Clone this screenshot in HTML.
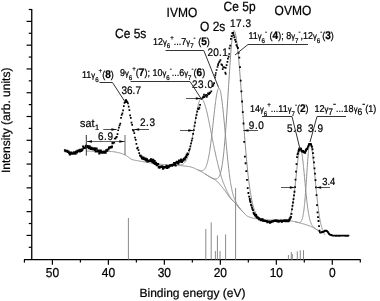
<!DOCTYPE html>
<html><head><meta charset="utf-8"><style>
html,body{margin:0;padding:0;background:#fff;}
svg{display:block;}
text{font-family:"Liberation Sans",sans-serif;fill:#000;stroke:#000;stroke-width:0.22px;}
svg{will-change:transform;text-rendering:geometricPrecision;}
</style></head><body>
<svg width="380" height="301" viewBox="0 0 380 301">
<line x1="31.75" y1="9" x2="31.75" y2="259.6" stroke="#000" stroke-width="1.3"/>
<line x1="24" y1="259.6" x2="360.6" y2="259.6" stroke="#000" stroke-width="1.15"/>
<line x1="28.75" y1="9.50" x2="31.75" y2="9.50" stroke="#000" stroke-width="1.2"/>
<line x1="26.55" y1="21.39" x2="31.75" y2="21.39" stroke="#000" stroke-width="1.2"/>
<line x1="28.75" y1="33.28" x2="31.75" y2="33.28" stroke="#000" stroke-width="1.2"/>
<line x1="26.55" y1="45.17" x2="31.75" y2="45.17" stroke="#000" stroke-width="1.2"/>
<line x1="28.75" y1="57.06" x2="31.75" y2="57.06" stroke="#000" stroke-width="1.2"/>
<line x1="26.55" y1="68.95" x2="31.75" y2="68.95" stroke="#000" stroke-width="1.2"/>
<line x1="28.75" y1="80.84" x2="31.75" y2="80.84" stroke="#000" stroke-width="1.2"/>
<line x1="26.55" y1="92.73" x2="31.75" y2="92.73" stroke="#000" stroke-width="1.2"/>
<line x1="28.75" y1="104.62" x2="31.75" y2="104.62" stroke="#000" stroke-width="1.2"/>
<line x1="26.55" y1="116.51" x2="31.75" y2="116.51" stroke="#000" stroke-width="1.2"/>
<line x1="28.75" y1="128.40" x2="31.75" y2="128.40" stroke="#000" stroke-width="1.2"/>
<line x1="26.55" y1="140.29" x2="31.75" y2="140.29" stroke="#000" stroke-width="1.2"/>
<line x1="28.75" y1="152.18" x2="31.75" y2="152.18" stroke="#000" stroke-width="1.2"/>
<line x1="26.55" y1="164.07" x2="31.75" y2="164.07" stroke="#000" stroke-width="1.2"/>
<line x1="28.75" y1="175.96" x2="31.75" y2="175.96" stroke="#000" stroke-width="1.2"/>
<line x1="26.55" y1="187.85" x2="31.75" y2="187.85" stroke="#000" stroke-width="1.2"/>
<line x1="28.75" y1="199.74" x2="31.75" y2="199.74" stroke="#000" stroke-width="1.2"/>
<line x1="26.55" y1="211.63" x2="31.75" y2="211.63" stroke="#000" stroke-width="1.2"/>
<line x1="28.75" y1="223.52" x2="31.75" y2="223.52" stroke="#000" stroke-width="1.2"/>
<line x1="26.55" y1="235.41" x2="31.75" y2="235.41" stroke="#000" stroke-width="1.2"/>
<line x1="28.75" y1="247.30" x2="31.75" y2="247.30" stroke="#000" stroke-width="1.2"/>
<line x1="360.29" y1="259.6" x2="360.29" y2="262.60" stroke="#000" stroke-width="1.2"/>
<line x1="332.30" y1="259.6" x2="332.30" y2="264.80" stroke="#000" stroke-width="1.2"/>
<line x1="304.31" y1="259.6" x2="304.31" y2="262.60" stroke="#000" stroke-width="1.2"/>
<line x1="276.32" y1="259.6" x2="276.32" y2="264.80" stroke="#000" stroke-width="1.2"/>
<line x1="248.33" y1="259.6" x2="248.33" y2="262.60" stroke="#000" stroke-width="1.2"/>
<line x1="220.34" y1="259.6" x2="220.34" y2="264.80" stroke="#000" stroke-width="1.2"/>
<line x1="192.35" y1="259.6" x2="192.35" y2="262.60" stroke="#000" stroke-width="1.2"/>
<line x1="164.36" y1="259.6" x2="164.36" y2="264.80" stroke="#000" stroke-width="1.2"/>
<line x1="136.37" y1="259.6" x2="136.37" y2="262.60" stroke="#000" stroke-width="1.2"/>
<line x1="108.38" y1="259.6" x2="108.38" y2="264.80" stroke="#000" stroke-width="1.2"/>
<line x1="80.39" y1="259.6" x2="80.39" y2="262.60" stroke="#000" stroke-width="1.2"/>
<line x1="52.40" y1="259.6" x2="52.40" y2="264.80" stroke="#000" stroke-width="1.2"/>
<line x1="24.41" y1="259.6" x2="24.41" y2="262.60" stroke="#000" stroke-width="1.2"/>
<text transform="translate(332.30,277) scale(1,1.08)" font-size="12" text-anchor="middle">0</text>
<text transform="translate(276.32,277) scale(1,1.08)" font-size="12" text-anchor="middle">10</text>
<text transform="translate(220.34,277) scale(1,1.08)" font-size="12" text-anchor="middle">20</text>
<text transform="translate(164.36,277) scale(1,1.08)" font-size="12" text-anchor="middle">30</text>
<text transform="translate(108.38,277) scale(1,1.08)" font-size="12" text-anchor="middle">40</text>
<text transform="translate(52.40,277) scale(1,1.08)" font-size="12" text-anchor="middle">50</text>
<text x="192.5" y="297" font-size="12" text-anchor="middle">Binding energy (eV)</text>
<text transform="translate(10.4,120.3) rotate(-90)" font-size="12" text-anchor="middle">Intensity (arb. units)</text>
<line x1="128.4" y1="218" x2="128.4" y2="259.6" stroke="#8a8a8a" stroke-width="1"/>
<line x1="205.8" y1="229" x2="205.8" y2="259.6" stroke="#8a8a8a" stroke-width="1"/>
<line x1="211.2" y1="222.4" x2="211.2" y2="259.6" stroke="#8a8a8a" stroke-width="1"/>
<line x1="215.4" y1="251" x2="215.4" y2="259.6" stroke="#8a8a8a" stroke-width="1"/>
<line x1="217.4" y1="235.4" x2="217.4" y2="259.6" stroke="#8a8a8a" stroke-width="1"/>
<line x1="220" y1="251" x2="220" y2="259.6" stroke="#8a8a8a" stroke-width="1"/>
<line x1="225.6" y1="234.4" x2="225.6" y2="259.6" stroke="#8a8a8a" stroke-width="1"/>
<line x1="235.6" y1="188" x2="235.6" y2="259.6" stroke="#8a8a8a" stroke-width="1"/>
<line x1="288.4" y1="255" x2="288.4" y2="259.6" stroke="#8a8a8a" stroke-width="1"/>
<line x1="291.3" y1="252" x2="291.3" y2="259.6" stroke="#8a8a8a" stroke-width="1"/>
<line x1="292.3" y1="254" x2="292.3" y2="259.6" stroke="#8a8a8a" stroke-width="1"/>
<line x1="297.3" y1="251.3" x2="297.3" y2="259.6" stroke="#8a8a8a" stroke-width="1"/>
<line x1="300.3" y1="250.2" x2="300.3" y2="259.6" stroke="#8a8a8a" stroke-width="1"/>
<line x1="303.5" y1="250.2" x2="303.5" y2="259.6" stroke="#8a8a8a" stroke-width="1"/>
<path d="M86.00,151.00 L86.47,151.03 L86.94,151.05 L87.41,151.08 L87.88,151.10 L88.34,151.13 L88.81,151.15 L89.28,151.18 L89.75,151.20 L90.22,151.23 L90.69,151.25 L91.16,151.27 L91.63,151.29 L92.10,151.31 L92.57,151.33 L93.03,151.35 L93.50,151.37 L93.97,151.39 L94.44,151.40 L94.91,151.42 L95.38,151.43 L95.85,151.44 L96.32,151.45 L96.79,151.47 L97.25,151.47 L97.72,151.48 L98.19,151.49 L98.66,151.49 L99.13,151.50 L99.60,151.50 L100.07,151.50 L100.54,151.50 L101.01,151.50 L101.47,151.50 L101.94,151.50 L102.41,151.50 L102.88,151.50 L103.35,151.50 L103.82,151.50 L104.29,151.50 L104.76,151.50 L105.23,151.50 L105.70,151.50 L106.16,151.50 L106.63,151.50 L107.10,151.50 L107.57,151.50 L108.04,151.50 L108.51,151.50 L108.98,151.50 L109.45,151.50 L109.92,151.50 L110.38,151.50 L110.85,151.52 L111.32,151.54 L111.79,151.57 L112.26,151.60 L112.73,151.65 L113.20,151.70 L113.67,151.76 L114.14,151.83 L114.61,151.90 L115.07,151.98 L115.54,152.06 L116.01,152.14 L116.48,152.23 L116.95,152.33 L117.42,152.43 L117.89,152.53 L118.36,152.63 L118.83,152.73 L119.29,152.84 L119.76,152.95 L120.23,153.06 L120.70,153.18 L121.17,153.33 L121.64,153.49 L122.11,153.67 L122.58,153.86 L123.05,154.06 L123.52,154.27 L123.98,154.49 L124.45,154.72 L124.92,154.95 L125.39,155.19 L125.86,155.43 L126.33,155.68 L126.80,155.97 L127.27,156.30 L127.74,156.65 L128.20,157.01 L128.67,157.39 L129.14,157.76 L129.61,158.12 L130.08,158.46 L130.55,158.78 L131.02,159.06 L131.49,159.30 L131.96,159.49 L132.42,159.63 L132.89,159.77 L133.36,159.89 L133.83,160.01 L134.30,160.12 L134.77,160.22 L135.24,160.32 L135.71,160.41 L136.18,160.50 L136.65,160.58 L137.11,160.66 L137.58,160.74 L138.05,160.81 L138.52,160.89 L138.99,160.96 L139.46,161.04 L139.93,161.11 L140.40,161.19 L140.87,161.28 L141.33,161.36 L141.80,161.44 L142.27,161.53 L142.74,161.61 L143.21,161.69 L143.68,161.77 L144.15,161.86 L144.62,161.93 L145.09,162.01 L145.56,162.09 L146.02,162.17 L146.49,162.25 L146.96,162.32 L147.43,162.40 L147.90,162.47 L148.37,162.55 L148.84,162.62 L149.31,162.69 L149.78,162.77 L150.24,162.84 L150.71,162.91 L151.18,162.98 L151.65,163.05 L152.12,163.12 L152.59,163.19 L153.06,163.26 L153.53,163.34 L154.00,163.40 L154.46,163.47 L154.93,163.54 L155.40,163.61 L155.87,163.68 L156.34,163.74 L156.81,163.80 L157.28,163.87 L157.75,163.93 L158.22,163.99 L158.69,164.05 L159.15,164.10 L159.62,164.16 L160.09,164.21 L160.56,164.26 L161.03,164.31 L161.50,164.37 L161.97,164.42 L162.44,164.47 L162.91,164.52 L163.37,164.57 L163.84,164.62 L164.31,164.67 L164.78,164.72 L165.25,164.77 L165.72,164.81 L166.19,164.86 L166.66,164.90 L167.13,164.95 L167.60,164.99 L168.06,165.03 L168.53,165.07 L169.00,165.10 L169.47,165.14 L169.94,165.17 L170.41,165.21 L170.88,165.24 L171.35,165.26 L171.82,165.29 L172.28,165.31 L172.75,165.34 L173.22,165.36 L173.69,165.37 L174.16,165.39 L174.63,165.40 L175.10,165.42 L175.57,165.43 L176.04,165.45 L176.51,165.46 L176.97,165.47 L177.44,165.49 L177.91,165.51 L178.38,165.52 L178.85,165.54 L179.32,165.56 L179.79,165.59 L180.26,165.61 L180.73,165.64 L181.19,165.68 L181.66,165.71 L182.13,165.75 L182.60,165.79 L183.07,165.83 L183.54,165.88 L184.01,165.92 L184.48,165.98 L184.95,166.03 L185.41,166.09 L185.88,166.15 L186.35,166.21 L186.82,166.28 L187.29,166.34 L187.76,166.42 L188.23,166.49 L188.70,166.57 L189.17,166.65 L189.64,166.73 L190.10,166.82 L190.57,166.92 L191.04,167.04 L191.51,167.17 L191.98,167.31 L192.45,167.47 L192.92,167.64 L193.39,167.82 L193.86,168.01 L194.32,168.21 L194.79,168.42 L195.26,168.64 L195.73,168.86 L196.20,169.09 L196.67,169.32 L197.14,169.55 L197.61,169.79 L198.08,170.03 L198.55,170.27 L199.01,170.51 L199.48,170.74 L199.95,170.98 L200.42,171.21 L200.89,171.46 L201.36,171.71 L201.83,171.97 L202.30,172.24 L202.77,172.51 L203.23,172.79 L203.70,173.07 L204.17,173.36 L204.64,173.65 L205.11,173.95 L205.58,174.24 L206.05,174.54 L206.52,174.84 L206.99,175.14 L207.45,175.43 L207.92,175.73 L208.39,176.02 L208.86,176.31 L209.33,176.60 L209.80,176.88 L210.27,177.16 L210.74,177.42 L211.21,177.68 L211.68,177.93 L212.14,178.17 L212.61,178.42 L213.08,178.67 L213.55,178.93 L214.02,179.19 L214.49,179.47 L214.96,179.77 L215.43,180.08 L215.90,180.42 L216.36,180.79 L216.83,181.18 L217.30,181.61 L217.77,182.06 L218.24,182.54 L218.71,183.05 L219.18,183.57 L219.65,184.11 L220.12,184.66 L220.59,185.23 L221.05,185.81 L221.52,186.39 L221.99,186.98 L222.46,187.57 L222.93,188.16 L223.40,188.75 L223.87,189.34 L224.34,189.92 L224.81,190.53 L225.27,191.17 L225.74,191.82 L226.21,192.48 L226.68,193.15 L227.15,193.83 L227.62,194.51 L228.09,195.18 L228.56,195.84 L229.03,196.50 L229.49,197.13 L229.96,197.74 L230.43,198.33 L230.90,198.89 L231.37,199.41 L231.84,199.90 L232.31,200.37 L232.78,200.83 L233.25,201.28 L233.72,201.72 L234.18,202.18 L234.65,202.64 L235.12,203.13 L235.59,203.63 L236.06,204.15 L236.53,204.68 L237.00,205.22 L237.47,205.76 L237.94,206.31 L238.40,206.86 L238.87,207.41 L239.34,207.96 L239.81,208.51 L240.28,209.05 L240.75,209.59 L241.22,210.12 L241.69,210.63 L242.16,211.14 L242.63,211.62 L243.09,212.09 L243.56,212.57 L244.03,213.07 L244.50,213.57 L244.97,214.07 L245.44,214.55 L245.91,215.01 L246.38,215.43 L246.85,215.81 L247.31,216.14 L247.78,216.40 L248.25,216.60 L248.72,216.79 L249.19,216.97 L249.66,217.14 L250.13,217.30 L250.60,217.45 L251.07,217.59 L251.54,217.73 L252.00,217.86 L252.47,217.98 L252.94,218.10 L253.41,218.21 L253.88,218.31 L254.35,218.41 L254.82,218.50 L255.29,218.59 L255.76,218.67 L256.22,218.75 L256.69,218.82 L257.16,218.89 L257.63,218.95 L258.10,219.01 L258.57,219.07 L259.04,219.13 L259.51,219.18 L259.98,219.23 L260.44,219.28 L260.91,219.33 L261.38,219.37 L261.85,219.42 L262.32,219.46 L262.79,219.50 L263.26,219.54 L263.73,219.58 L264.20,219.61 L264.67,219.65 L265.13,219.68 L265.60,219.72 L266.07,219.75 L266.54,219.78 L267.01,219.81 L267.48,219.84 L267.95,219.87 L268.42,219.90 L268.89,219.93 L269.35,219.96 L269.82,219.99 L270.29,220.02 L270.76,220.05 L271.23,220.07 L271.70,220.10 L272.17,220.12 L272.64,220.14 L273.11,220.17 L273.58,220.19 L274.04,220.21 L274.51,220.23 L274.98,220.24 L275.45,220.26 L275.92,220.28 L276.39,220.30 L276.86,220.31 L277.33,220.33 L277.80,220.35 L278.26,220.36 L278.73,220.38 L279.20,220.39 L279.67,220.41 L280.14,220.43 L280.61,220.44 L281.08,220.46 L281.55,220.47 L282.02,220.49 L282.48,220.51 L282.95,220.53 L283.42,220.55 L283.89,220.57 L284.36,220.59 L284.83,220.61 L285.30,220.63 L285.77,220.65 L286.24,220.68 L286.71,220.70 L287.17,220.73 L287.64,220.76 L288.11,220.79 L288.58,220.82 L289.05,220.85 L289.52,220.88 L289.99,220.92 L290.46,220.95 L290.93,220.99 L291.39,221.04 L291.86,221.09 L292.33,221.16 L292.80,221.23 L293.27,221.32 L293.74,221.41 L294.21,221.51 L294.68,221.62 L295.15,221.73 L295.62,221.84 L296.08,221.96 L296.55,222.08 L297.02,222.21 L297.49,222.34 L297.96,222.46 L298.43,222.59 L298.90,222.71 L299.37,222.84 L299.84,222.96 L300.30,223.08 L300.77,223.20 L301.24,223.32 L301.71,223.44 L302.18,223.56 L302.65,223.69 L303.12,223.81 L303.59,223.94 L304.06,224.08 L304.53,224.21 L304.99,224.35 L305.46,224.50 L305.93,224.65 L306.40,224.80 L306.87,224.96 L307.34,225.12 L307.81,225.28 L308.28,225.46 L308.75,225.63 L309.21,225.81 L309.68,226.00 L310.15,226.19 L310.62,226.39 L311.09,226.60 L311.56,226.81 L312.03,227.02 L312.50,227.25 L312.97,227.47 L313.43,227.71 L313.90,227.95 L314.37,228.20 L314.84,228.46 L315.31,228.74 L315.78,229.02 L316.25,229.32 L316.72,229.62 L317.19,229.94 L317.66,230.26 L318.12,230.59 L318.59,230.94 L319.06,231.28 L319.53,231.64 L320.00,232.00" fill="none" stroke="#8a8a8a" stroke-width="1"/>
<path d="M180.00,165.11 L180.20,165.07 L180.40,165.03 L180.60,164.99 L180.80,164.94 L181.00,164.89 L181.20,164.83 L181.40,164.77 L181.61,164.70 L181.81,164.62 L182.01,164.54 L182.21,164.45 L182.41,164.36 L182.61,164.25 L182.81,164.14 L183.01,164.02 L183.21,163.89 L183.41,163.75 L183.61,163.59 L183.81,163.43 L184.01,163.25 L184.21,163.07 L184.41,162.86 L184.62,162.65 L184.82,162.42 L185.02,162.17 L185.22,161.91 L185.42,161.64 L185.62,161.34 L185.82,161.03 L186.02,160.70 L186.22,160.35 L186.42,159.97 L186.62,159.58 L186.82,159.17 L187.02,158.73 L187.22,158.27 L187.42,157.79 L187.63,157.28 L187.83,156.75 L188.03,156.20 L188.23,155.62 L188.43,155.01 L188.63,154.37 L188.83,153.71 L189.03,153.02 L189.23,152.31 L189.43,151.56 L189.63,150.79 L189.83,149.99 L190.03,149.16 L190.23,148.31 L190.43,147.43 L190.64,146.53 L190.84,145.60 L191.04,144.64 L191.24,143.66 L191.44,142.66 L191.64,141.64 L191.84,140.59 L192.04,139.53 L192.24,138.44 L192.44,137.33 L192.64,136.21 L192.84,135.06 L193.04,133.91 L193.24,132.73 L193.44,131.55 L193.65,130.35 L193.85,129.15 L194.05,127.94 L194.25,126.72 L194.45,125.50 L194.65,124.28 L194.85,123.05 L195.05,121.83 L195.25,120.62 L195.45,119.41 L195.65,118.22 L195.85,117.03 L196.05,115.87 L196.25,114.71 L196.45,113.58 L196.66,112.47 L196.86,111.39 L197.06,110.33 L197.26,109.31 L197.46,108.31 L197.66,107.35 L197.86,106.43 L198.06,105.55 L198.26,104.71 L198.46,103.91 L198.66,103.16 L198.86,102.46 L199.06,101.81 L199.26,101.21 L199.46,100.66 L199.67,100.17 L199.87,99.74 L200.07,99.36 L200.27,99.04 L200.47,98.79 L200.67,98.60 L200.87,98.47 L201.07,98.41 L201.27,98.42 L201.47,98.48 L201.67,98.61 L201.87,98.76 L202.07,98.95 L202.27,99.17 L202.47,99.42 L202.68,99.70 L202.88,100.01 L203.08,100.36 L203.28,100.73 L203.48,101.14 L203.68,101.57 L203.88,102.04 L204.08,102.53 L204.28,103.05 L204.48,103.60 L204.68,104.18 L204.88,104.79 L205.08,105.42 L205.28,106.07 L205.48,106.75 L205.69,107.45 L205.89,108.18 L206.09,108.93 L206.29,109.70 L206.49,110.50 L206.69,111.31 L206.89,112.14 L207.09,112.99 L207.29,113.86 L207.49,114.74 L207.69,115.64 L207.89,116.55 L208.09,117.48 L208.29,118.42 L208.49,119.38 L208.70,120.34 L208.90,121.32 L209.10,122.30 L209.30,123.29 L209.50,124.29 L209.70,125.30 L209.90,126.31 L210.10,127.32 L210.30,128.34 L210.50,129.36 L210.70,130.38 L210.90,131.40 L211.10,132.43 L211.30,133.45 L211.51,134.47 L211.71,135.48 L211.91,136.50 L212.11,137.51 L212.31,138.53 L212.51,139.53 L212.71,140.54 L212.91,141.53 L213.11,142.53 L213.31,143.52 L213.51,144.50 L213.71,145.48 L213.91,146.45 L214.11,147.42 L214.31,148.38 L214.52,149.33 L214.72,150.27 L214.92,151.21 L215.12,152.14 L215.32,153.07 L215.52,153.98 L215.72,154.89 L215.92,155.79 L216.12,156.69 L216.32,157.58 L216.52,158.46 L216.72,159.33 L216.92,160.20 L217.12,161.05 L217.32,161.90 L217.53,162.75 L217.73,163.58 L217.93,164.40 L218.13,165.22 L218.33,166.02 L218.53,166.82 L218.73,167.60 L218.93,168.38 L219.13,169.14 L219.33,169.90 L219.53,170.64 L219.73,171.37 L219.93,172.10 L220.13,172.81 L220.33,173.51 L220.54,174.20 L220.74,174.88 L220.94,175.54 L221.14,176.20 L221.34,176.84 L221.54,177.48 L221.74,178.10 L221.94,178.71 L222.14,179.31 L222.34,179.90 L222.54,180.48 L222.74,181.04 L222.94,181.60 L223.14,182.14 L223.34,182.68 L223.55,183.20 L223.75,183.71 L223.95,184.21 L224.15,184.70 L224.35,185.19 L224.55,185.67 L224.75,186.15 L224.95,186.62 L225.15,187.09 L225.35,187.55 L225.55,188.01 L225.75,188.47 L225.95,188.92 L226.15,189.37 L226.35,189.81 L226.56,190.24 L226.76,190.67 L226.96,191.09 L227.16,191.51 L227.36,191.93 L227.56,192.33 L227.76,192.73 L227.96,193.13 L228.16,193.52 L228.36,193.90 L228.56,194.27 L228.76,194.64 L228.96,195.00 L229.16,195.36 L229.36,195.70 L229.57,196.04 L229.77,196.38 L229.97,196.70 L230.17,197.01 L230.37,197.32 L230.57,197.62 L230.77,197.91 L230.97,198.19 L231.17,198.47 L231.37,198.73 L231.57,198.98 L231.77,199.23 L231.97,199.48 L232.17,199.71 L232.37,199.94 L232.58,200.17 L232.78,200.39 L232.98,200.61 L233.18,200.83 L233.38,201.04 L233.58,201.26 L233.78,201.47 L233.98,201.69 L234.18,201.90 L234.38,202.12 L234.58,202.33 L234.78,202.55 L234.98,202.78 L235.18,203.00 L235.38,203.23 L235.59,203.46 L235.79,203.69 L235.99,203.92 L236.19,204.16 L236.39,204.39 L236.59,204.63 L236.79,204.87 L236.99,205.11 L237.19,205.35 L237.39,205.59 L237.59,205.83 L237.79,206.07 L237.99,206.31 L238.19,206.55 L238.39,206.79 L238.60,207.03 L238.80,207.27 L239.00,207.51 L239.20,207.75 L239.40,207.99 L239.60,208.23 L239.80,208.46 L240.00,208.70" fill="none" stroke="#8a8a8a" stroke-width="1"/>
<path d="M198.00,169.83 L198.16,169.90 L198.31,169.96 L198.47,170.02 L198.63,170.08 L198.79,170.14 L198.94,170.20 L199.10,170.25 L199.26,170.30 L199.41,170.35 L199.57,170.40 L199.73,170.44 L199.89,170.48 L200.04,170.52 L200.20,170.55 L200.36,170.58 L200.52,170.61 L200.67,170.64 L200.83,170.66 L200.99,170.68 L201.14,170.69 L201.30,170.70 L201.46,170.71 L201.62,170.71 L201.77,170.70 L201.93,170.69 L202.09,170.67 L202.24,170.65 L202.40,170.62 L202.56,170.58 L202.72,170.53 L202.87,170.48 L203.03,170.41 L203.19,170.34 L203.34,170.25 L203.50,170.16 L203.66,170.05 L203.82,169.93 L203.97,169.80 L204.13,169.66 L204.29,169.50 L204.44,169.33 L204.60,169.14 L204.76,168.93 L204.92,168.71 L205.07,168.48 L205.23,168.22 L205.39,167.95 L205.55,167.66 L205.70,167.35 L205.86,167.01 L206.02,166.66 L206.17,166.28 L206.33,165.89 L206.49,165.46 L206.65,165.02 L206.80,164.55 L206.96,164.05 L207.12,163.53 L207.27,162.99 L207.43,162.41 L207.59,161.81 L207.75,161.18 L207.90,160.53 L208.06,159.84 L208.22,159.13 L208.37,158.38 L208.53,157.61 L208.69,156.80 L208.85,155.97 L209.00,155.11 L209.16,154.21 L209.32,153.29 L209.47,152.33 L209.63,151.35 L209.79,150.34 L209.95,149.29 L210.10,148.22 L210.26,147.12 L210.42,145.99 L210.58,144.83 L210.73,143.64 L210.89,142.43 L211.05,141.19 L211.20,139.93 L211.36,138.64 L211.52,137.33 L211.68,136.00 L211.83,134.65 L211.99,133.29 L212.15,131.91 L212.30,130.51 L212.46,129.10 L212.62,127.68 L212.78,126.25 L212.93,124.82 L213.09,123.38 L213.25,121.94 L213.40,120.49 L213.56,119.05 L213.72,117.61 L213.88,116.18 L214.03,114.76 L214.19,113.35 L214.35,111.95 L214.51,110.57 L214.66,109.20 L214.82,107.86 L214.98,106.54 L215.13,105.25 L215.29,103.99 L215.45,102.75 L215.61,101.56 L215.76,100.39 L215.92,99.27 L216.08,98.19 L216.23,97.15 L216.39,96.16 L216.55,95.22 L216.71,94.33 L216.86,93.49 L217.02,92.71 L217.18,91.98 L217.33,91.31 L217.49,90.70 L217.65,90.15 L217.81,89.66 L217.96,89.23 L218.12,88.87 L218.28,88.58 L218.43,88.35 L218.59,88.19 L218.75,88.09 L218.91,88.07 L219.06,88.11 L219.22,88.22 L219.38,88.40 L219.54,88.65 L219.69,88.96 L219.85,89.35 L220.01,89.80 L220.16,90.31 L220.32,90.90 L220.48,91.55 L220.64,92.26 L220.79,93.04 L220.95,93.87 L221.11,94.77 L221.26,95.73 L221.42,96.74 L221.58,97.81 L221.74,98.93 L221.89,100.10 L222.05,101.33 L222.21,102.60 L222.36,103.91 L222.52,105.27 L222.68,106.67 L222.84,108.11 L222.99,109.58 L223.15,111.09 L223.31,112.62 L223.46,114.19 L223.62,115.78 L223.78,117.39 L223.94,119.03 L224.09,120.69 L224.25,122.36 L224.41,124.05 L224.57,125.76 L224.72,127.48 L224.88,129.21 L225.04,130.95 L225.19,132.69 L225.35,134.43 L225.51,136.18 L225.67,137.92 L225.82,139.66 L225.98,141.40 L226.14,143.12 L226.29,144.84 L226.45,146.54 L226.61,148.23 L226.77,149.91 L226.92,151.57 L227.08,153.21 L227.24,154.82 L227.39,156.42 L227.55,158.00 L227.71,159.55 L227.87,161.07 L228.02,162.57 L228.18,164.05 L228.34,165.49 L228.49,166.91 L228.65,168.29 L228.81,169.65 L228.97,170.97 L229.12,172.27 L229.28,173.53 L229.44,174.76 L229.60,175.96 L229.75,177.13 L229.91,178.26 L230.07,179.37 L230.22,180.44 L230.38,181.47 L230.54,182.48 L230.70,183.45 L230.85,184.39 L231.01,185.30 L231.17,186.17 L231.32,187.02 L231.48,187.84 L231.64,188.62 L231.80,189.38 L231.95,190.11 L232.11,190.81 L232.27,191.49 L232.42,192.15 L232.58,192.77 L232.74,193.38 L232.90,193.96 L233.05,194.52 L233.21,195.07 L233.37,195.59 L233.53,196.09 L233.68,196.58 L233.84,197.05 L234.00,197.50 L234.15,197.94 L234.31,198.36 L234.47,198.77 L234.63,199.17 L234.78,199.56 L234.94,199.94 L235.10,200.31 L235.25,200.66 L235.41,201.01 L235.57,201.35 L235.73,201.68 L235.88,202.00 L236.04,202.32 L236.20,202.62 L236.35,202.92 L236.51,203.21 L236.67,203.50 L236.83,203.78 L236.98,204.05 L237.14,204.32 L237.30,204.59 L237.45,204.84 L237.61,205.10 L237.77,205.35 L237.93,205.59 L238.08,205.83 L238.24,206.07 L238.40,206.30 L238.56,206.53 L238.71,206.76 L238.87,206.98 L239.03,207.20 L239.18,207.42 L239.34,207.64 L239.50,207.85 L239.66,208.06 L239.81,208.26 L239.97,208.47 L240.13,208.67 L240.28,208.87 L240.44,209.07 L240.60,209.26 L240.76,209.46 L240.91,209.65 L241.07,209.83 L241.23,210.02 L241.38,210.20 L241.54,210.39 L241.70,210.57 L241.86,210.74 L242.01,210.92 L242.17,211.09 L242.33,211.26 L242.48,211.43 L242.64,211.60 L242.80,211.76 L242.96,211.92 L243.11,212.08 L243.27,212.24 L243.43,212.41 L243.59,212.57 L243.74,212.74 L243.90,212.91 L244.06,213.08 L244.21,213.25 L244.37,213.42 L244.53,213.59 L244.69,213.76 L244.84,213.92 L245.00,214.09" fill="none" stroke="#8a8a8a" stroke-width="1"/>
<path d="M205.00,173.88 L205.20,174.00 L205.40,174.13 L205.60,174.26 L205.80,174.38 L206.00,174.51 L206.20,174.64 L206.40,174.77 L206.61,174.89 L206.81,175.02 L207.01,175.15 L207.21,175.27 L207.41,175.40 L207.61,175.52 L207.81,175.65 L208.01,175.77 L208.21,175.90 L208.41,176.02 L208.61,176.14 L208.81,176.26 L209.01,176.38 L209.21,176.50 L209.41,176.62 L209.62,176.74 L209.82,176.85 L210.02,176.97 L210.22,177.08 L210.42,177.18 L210.62,177.29 L210.82,177.39 L211.02,177.49 L211.22,177.59 L211.42,177.68 L211.62,177.77 L211.82,177.86 L212.02,177.95 L212.22,178.03 L212.42,178.11 L212.63,178.19 L212.83,178.26 L213.03,178.34 L213.23,178.41 L213.43,178.48 L213.63,178.54 L213.83,178.60 L214.03,178.66 L214.23,178.71 L214.43,178.76 L214.63,178.80 L214.83,178.84 L215.03,178.87 L215.23,178.89 L215.43,178.91 L215.64,178.92 L215.84,178.92 L216.04,178.91 L216.24,178.90 L216.44,178.87 L216.64,178.83 L216.84,178.77 L217.04,178.70 L217.24,178.62 L217.44,178.51 L217.64,178.39 L217.84,178.24 L218.04,178.06 L218.24,177.86 L218.44,177.63 L218.65,177.37 L218.85,177.08 L219.05,176.75 L219.25,176.38 L219.45,175.97 L219.65,175.52 L219.85,175.02 L220.05,174.47 L220.25,173.88 L220.45,173.22 L220.65,172.51 L220.85,171.74 L221.05,170.91 L221.25,170.02 L221.45,169.06 L221.66,168.02 L221.86,166.92 L222.06,165.74 L222.26,164.48 L222.46,163.15 L222.66,161.73 L222.86,160.24 L223.06,158.65 L223.26,156.99 L223.46,155.23 L223.66,153.39 L223.86,151.46 L224.06,149.44 L224.26,147.34 L224.46,145.16 L224.67,142.89 L224.87,140.55 L225.07,138.12 L225.27,135.62 L225.47,133.04 L225.67,130.39 L225.87,127.66 L226.07,124.87 L226.27,122.01 L226.47,119.09 L226.67,116.12 L226.87,113.09 L227.07,110.01 L227.27,106.90 L227.47,103.75 L227.68,100.57 L227.88,97.36 L228.08,94.14 L228.28,90.91 L228.48,87.68 L228.68,84.46 L228.88,81.26 L229.08,78.07 L229.28,74.92 L229.48,71.81 L229.68,68.74 L229.88,65.74 L230.08,62.80 L230.28,59.93 L230.48,57.15 L230.69,54.47 L230.89,51.88 L231.09,49.40 L231.29,47.04 L231.49,44.81 L231.69,42.71 L231.89,40.75 L232.09,38.94 L232.29,37.29 L232.49,35.81 L232.69,34.49 L232.89,33.35 L233.09,32.39 L233.29,31.61 L233.49,31.02 L233.70,30.63 L233.90,30.43 L234.10,30.43 L234.30,30.61 L234.50,30.91 L234.70,31.31 L234.90,31.82 L235.10,32.44 L235.30,33.16 L235.50,33.98 L235.70,34.90 L235.90,35.91 L236.10,37.03 L236.30,38.24 L236.51,39.55 L236.71,40.95 L236.91,42.44 L237.11,44.01 L237.31,45.67 L237.51,47.42 L237.71,49.24 L237.91,51.14 L238.11,53.11 L238.31,55.16 L238.51,57.27 L238.71,59.45 L238.91,61.68 L239.11,63.98 L239.31,66.33 L239.52,68.73 L239.72,71.18 L239.92,73.67 L240.12,76.21 L240.32,78.78 L240.52,81.38 L240.72,84.02 L240.92,86.68 L241.12,89.36 L241.32,92.06 L241.52,94.78 L241.72,97.51 L241.92,100.25 L242.12,102.99 L242.32,105.74 L242.53,108.48 L242.73,111.22 L242.93,113.95 L243.13,116.68 L243.33,119.39 L243.53,122.10 L243.73,124.80 L243.93,127.48 L244.13,130.14 L244.33,132.78 L244.53,135.40 L244.73,137.99 L244.93,140.55 L245.13,143.07 L245.33,145.56 L245.54,148.01 L245.74,150.42 L245.94,152.79 L246.14,155.12 L246.34,157.40 L246.54,159.63 L246.74,161.81 L246.94,163.94 L247.14,166.02 L247.34,168.04 L247.54,170.01 L247.74,171.92 L247.94,173.77 L248.14,175.57 L248.34,177.32 L248.55,179.02 L248.75,180.67 L248.95,182.28 L249.15,183.84 L249.35,185.36 L249.55,186.82 L249.75,188.25 L249.95,189.62 L250.15,190.96 L250.35,192.24 L250.55,193.49 L250.75,194.69 L250.95,195.84 L251.15,196.96 L251.35,198.03 L251.56,199.07 L251.76,200.06 L251.96,201.02 L252.16,201.94 L252.36,202.82 L252.56,203.67 L252.76,204.48 L252.96,205.26 L253.16,206.00 L253.36,206.71 L253.56,207.39 L253.76,208.05 L253.96,208.67 L254.16,209.26 L254.36,209.83 L254.57,210.37 L254.77,210.88 L254.97,211.37 L255.17,211.83 L255.37,212.28 L255.57,212.70 L255.77,213.10 L255.97,213.48 L256.17,213.84 L256.37,214.18 L256.57,214.50 L256.77,214.81 L256.97,215.10 L257.17,215.37 L257.37,215.63 L257.58,215.88 L257.78,216.11 L257.98,216.33 L258.18,216.54 L258.38,216.73 L258.58,216.92 L258.78,217.09 L258.98,217.26 L259.18,217.41 L259.38,217.56 L259.58,217.70 L259.78,217.83 L259.98,217.95 L260.18,218.07 L260.38,218.17 L260.59,218.28 L260.79,218.37 L260.99,218.46 L261.19,218.55 L261.39,218.63 L261.59,218.71 L261.79,218.78 L261.99,218.85 L262.19,218.91 L262.39,218.97 L262.59,219.03 L262.79,219.08 L262.99,219.13 L263.19,219.18 L263.39,219.23 L263.60,219.27 L263.80,219.31 L264.00,219.35 L264.20,219.39 L264.40,219.42 L264.60,219.45 L264.80,219.48 L265.00,219.51" fill="none" stroke="#8a8a8a" stroke-width="1"/>
<path d="M285.00,220.42 L285.12,220.41 L285.23,220.39 L285.35,220.38 L285.47,220.36 L285.59,220.34 L285.70,220.32 L285.82,220.29 L285.94,220.27 L286.05,220.24 L286.17,220.21 L286.29,220.18 L286.40,220.14 L286.52,220.10 L286.64,220.06 L286.76,220.01 L286.87,219.96 L286.99,219.90 L287.11,219.84 L287.22,219.78 L287.34,219.71 L287.46,219.64 L287.58,219.56 L287.69,219.47 L287.81,219.38 L287.93,219.28 L288.04,219.18 L288.16,219.07 L288.28,218.95 L288.39,218.82 L288.51,218.69 L288.63,218.55 L288.75,218.39 L288.86,218.23 L288.98,218.06 L289.10,217.88 L289.21,217.68 L289.33,217.48 L289.45,217.26 L289.57,217.03 L289.68,216.79 L289.80,216.54 L289.92,216.27 L290.03,215.99 L290.15,215.69 L290.27,215.38 L290.38,215.05 L290.50,214.71 L290.62,214.35 L290.74,213.97 L290.85,213.58 L290.97,213.17 L291.09,212.74 L291.20,212.29 L291.32,211.82 L291.44,211.34 L291.56,210.83 L291.67,210.31 L291.79,209.76 L291.91,209.20 L292.02,208.61 L292.14,208.01 L292.26,207.38 L292.37,206.73 L292.49,206.06 L292.61,205.37 L292.73,204.65 L292.84,203.92 L292.96,203.16 L293.08,202.38 L293.19,201.58 L293.31,200.76 L293.43,199.92 L293.55,199.05 L293.66,198.17 L293.78,197.27 L293.90,196.34 L294.01,195.40 L294.13,194.44 L294.25,193.46 L294.36,192.46 L294.48,191.45 L294.60,190.42 L294.72,189.38 L294.83,188.32 L294.95,187.25 L295.07,186.17 L295.18,185.08 L295.30,183.98 L295.42,182.87 L295.54,181.75 L295.65,180.63 L295.77,179.50 L295.89,178.37 L296.00,177.24 L296.12,176.11 L296.24,174.98 L296.35,173.85 L296.47,172.73 L296.59,171.62 L296.71,170.51 L296.82,169.42 L296.94,168.34 L297.06,167.27 L297.17,166.21 L297.29,165.18 L297.41,164.16 L297.53,163.16 L297.64,162.19 L297.76,161.24 L297.88,160.32 L297.99,159.42 L298.11,158.55 L298.23,157.72 L298.34,156.92 L298.46,156.15 L298.58,155.41 L298.70,154.72 L298.81,154.06 L298.93,153.44 L299.05,152.87 L299.16,152.33 L299.28,151.84 L299.40,151.39 L299.52,150.99 L299.63,150.64 L299.75,150.33 L299.87,150.07 L299.98,149.85 L300.10,149.69 L300.22,149.57 L300.33,149.51 L300.45,149.49 L300.57,149.53 L300.69,149.62 L300.80,149.76 L300.92,149.97 L301.04,150.22 L301.15,150.53 L301.27,150.90 L301.39,151.32 L301.51,151.79 L301.62,152.31 L301.74,152.89 L301.86,153.51 L301.97,154.18 L302.09,154.90 L302.21,155.66 L302.32,156.46 L302.44,157.31 L302.56,158.20 L302.68,159.12 L302.79,160.08 L302.91,161.08 L303.03,162.11 L303.14,163.17 L303.26,164.25 L303.38,165.37 L303.49,166.50 L303.61,167.66 L303.73,168.84 L303.85,170.04 L303.96,171.25 L304.08,172.48 L304.20,173.72 L304.31,174.97 L304.43,176.22 L304.55,177.48 L304.67,178.75 L304.78,180.01 L304.90,181.28 L305.02,182.54 L305.13,183.80 L305.25,185.05 L305.37,186.30 L305.48,187.54 L305.60,188.77 L305.72,189.98 L305.84,191.18 L305.95,192.37 L306.07,193.54 L306.19,194.70 L306.30,195.84 L306.42,196.95 L306.54,198.05 L306.66,199.13 L306.77,200.19 L306.89,201.23 L307.01,202.24 L307.12,203.23 L307.24,204.20 L307.36,205.14 L307.47,206.06 L307.59,206.95 L307.71,207.82 L307.83,208.67 L307.94,209.49 L308.06,210.28 L308.18,211.05 L308.29,211.80 L308.41,212.52 L308.53,213.22 L308.65,213.90 L308.76,214.55 L308.88,215.18 L309.00,215.78 L309.11,216.36 L309.23,216.93 L309.35,217.46 L309.46,217.98 L309.58,218.48 L309.70,218.96 L309.82,219.42 L309.93,219.86 L310.05,220.28 L310.17,220.68 L310.28,221.07 L310.40,221.44 L310.52,221.79 L310.64,222.13 L310.75,222.46 L310.87,222.77 L310.99,223.06 L311.10,223.34 L311.22,223.61 L311.34,223.87 L311.45,224.12 L311.57,224.35 L311.69,224.58 L311.81,224.79 L311.92,225.00 L312.04,225.19 L312.16,225.38 L312.27,225.56 L312.39,225.73 L312.51,225.90 L312.63,226.06 L312.74,226.21 L312.86,226.36 L312.98,226.50 L313.09,226.63 L313.21,226.76 L313.33,226.89 L313.44,227.01 L313.56,227.12 L313.68,227.24 L313.80,227.35 L313.91,227.45 L314.03,227.56 L314.15,227.66 L314.26,227.76 L314.38,227.85 L314.50,227.95 L314.62,228.04 L314.73,228.13 L314.85,228.22 L314.97,228.31 L315.08,228.40 L315.20,228.49 L315.32,228.57 L315.43,228.66 L315.55,228.74 L315.67,228.83 L315.79,228.91 L315.90,229.00 L316.02,229.08 L316.14,229.16 L316.25,229.24 L316.37,229.33 L316.49,229.41 L316.61,229.49 L316.72,229.58 L316.84,229.66 L316.96,229.74 L317.07,229.82 L317.19,229.91 L317.31,229.99 L317.42,230.08 L317.54,230.16 L317.66,230.24 L317.78,230.33 L317.89,230.41 L318.01,230.50 L318.13,230.58 L318.24,230.67 L318.36,230.76 L318.48,230.84 L318.60,230.93 L318.71,231.02 L318.83,231.10 L318.95,231.19 L319.06,231.28 L319.18,231.37 L319.30,231.46 L319.41,231.55 L319.53,231.64 L319.65,231.73 L319.77,231.82 L319.88,231.91 L320.00,232.00" fill="none" stroke="#8a8a8a" stroke-width="1"/>
<path d="M295.00,221.69 L295.10,221.71 L295.20,221.74 L295.30,221.76 L295.40,221.79 L295.50,221.81 L295.60,221.84 L295.70,221.86 L295.80,221.88 L295.90,221.91 L296.00,221.93 L296.10,221.96 L296.20,221.98 L296.30,222.01 L296.40,222.03 L296.51,222.06 L296.61,222.08 L296.71,222.11 L296.81,222.13 L296.91,222.16 L297.01,222.18 L297.11,222.20 L297.21,222.23 L297.31,222.25 L297.41,222.27 L297.51,222.29 L297.61,222.32 L297.71,222.34 L297.81,222.36 L297.91,222.37 L298.01,222.39 L298.11,222.41 L298.21,222.42 L298.31,222.44 L298.41,222.45 L298.51,222.46 L298.61,222.47 L298.71,222.48 L298.81,222.49 L298.91,222.49 L299.01,222.49 L299.11,222.49 L299.21,222.49 L299.31,222.48 L299.41,222.47 L299.52,222.45 L299.62,222.43 L299.72,222.41 L299.82,222.38 L299.92,222.35 L300.02,222.31 L300.12,222.26 L300.22,222.21 L300.32,222.16 L300.42,222.09 L300.52,222.02 L300.62,221.94 L300.72,221.85 L300.82,221.75 L300.92,221.64 L301.02,221.53 L301.12,221.40 L301.22,221.25 L301.32,221.10 L301.42,220.93 L301.52,220.75 L301.62,220.55 L301.72,220.34 L301.82,220.11 L301.92,219.86 L302.02,219.60 L302.12,219.31 L302.22,219.01 L302.32,218.68 L302.42,218.34 L302.53,217.96 L302.63,217.57 L302.73,217.15 L302.83,216.71 L302.93,216.23 L303.03,215.73 L303.13,215.21 L303.23,214.65 L303.33,214.06 L303.43,213.44 L303.53,212.79 L303.63,212.11 L303.73,211.40 L303.83,210.65 L303.93,209.86 L304.03,209.05 L304.13,208.19 L304.23,207.31 L304.33,206.38 L304.43,205.42 L304.53,204.43 L304.63,203.40 L304.73,202.33 L304.83,201.23 L304.93,200.09 L305.03,198.93 L305.13,197.72 L305.23,196.49 L305.33,195.22 L305.43,193.92 L305.54,192.59 L305.64,191.24 L305.74,189.85 L305.84,188.45 L305.94,187.02 L306.04,185.57 L306.14,184.10 L306.24,182.61 L306.34,181.11 L306.44,179.60 L306.54,178.07 L306.64,176.54 L306.74,175.01 L306.84,173.48 L306.94,171.95 L307.04,170.42 L307.14,168.90 L307.24,167.40 L307.34,165.91 L307.44,164.44 L307.54,162.99 L307.64,161.56 L307.74,160.17 L307.84,158.81 L307.94,157.48 L308.04,156.19 L308.14,154.95 L308.24,153.75 L308.34,152.60 L308.44,151.50 L308.55,150.46 L308.65,149.47 L308.75,148.55 L308.85,147.69 L308.95,146.89 L309.05,146.17 L309.15,145.51 L309.25,144.93 L309.35,144.42 L309.45,143.98 L309.55,143.63 L309.65,143.35 L309.75,143.15 L309.85,143.03 L309.95,142.99 L310.05,143.02 L310.15,143.10 L310.25,143.21 L310.35,143.34 L310.45,143.51 L310.55,143.72 L310.65,143.95 L310.75,144.22 L310.85,144.52 L310.95,144.85 L311.05,145.21 L311.15,145.60 L311.25,146.02 L311.35,146.47 L311.45,146.95 L311.56,147.46 L311.66,147.99 L311.76,148.56 L311.86,149.15 L311.96,149.77 L312.06,150.41 L312.16,151.08 L312.26,151.77 L312.36,152.49 L312.46,153.23 L312.56,153.99 L312.66,154.77 L312.76,155.58 L312.86,156.40 L312.96,157.24 L313.06,158.10 L313.16,158.98 L313.26,159.88 L313.36,160.79 L313.46,161.72 L313.56,162.66 L313.66,163.61 L313.76,164.58 L313.86,165.56 L313.96,166.54 L314.06,167.54 L314.16,168.55 L314.26,169.57 L314.36,170.59 L314.46,171.62 L314.57,172.65 L314.67,173.69 L314.77,174.74 L314.87,175.78 L314.97,176.83 L315.07,177.88 L315.17,178.93 L315.27,179.99 L315.37,181.04 L315.47,182.09 L315.57,183.13 L315.67,184.18 L315.77,185.22 L315.87,186.25 L315.97,187.28 L316.07,188.31 L316.17,189.33 L316.27,190.34 L316.37,191.35 L316.47,192.35 L316.57,193.33 L316.67,194.31 L316.77,195.29 L316.87,196.25 L316.97,197.20 L317.07,198.14 L317.17,199.07 L317.27,199.99 L317.37,200.89 L317.47,201.79 L317.58,202.67 L317.68,203.54 L317.78,204.40 L317.88,205.24 L317.98,206.07 L318.08,206.89 L318.18,207.69 L318.28,208.48 L318.38,209.26 L318.48,210.02 L318.58,210.77 L318.68,211.50 L318.78,212.23 L318.88,212.93 L318.98,213.62 L319.08,214.30 L319.18,214.97 L319.28,215.62 L319.38,216.25 L319.48,216.88 L319.58,217.49 L319.68,218.08 L319.78,218.66 L319.88,219.23 L319.98,219.79 L320.08,220.33 L320.18,220.86 L320.28,221.37 L320.38,221.88 L320.48,222.37 L320.59,222.85 L320.69,223.31 L320.79,223.77 L320.89,224.21 L320.99,224.64 L321.09,225.06 L321.19,225.47 L321.29,225.87 L321.39,226.26 L321.49,226.63 L321.59,227.00 L321.69,227.36 L321.79,227.70 L321.89,228.04 L321.99,228.37 L322.09,228.69 L322.19,229.00 L322.29,229.30 L322.39,229.60 L322.49,229.88 L322.59,230.16 L322.69,230.43 L322.79,230.69 L322.89,230.95 L322.99,231.20 L323.09,231.44 L323.19,231.67 L323.29,231.90 L323.39,232.12 L323.49,232.34 L323.60,232.55 L323.70,232.76 L323.80,232.96 L323.90,233.15 L324.00,233.34 L324.10,233.53 L324.20,233.71 L324.30,233.88 L324.40,234.05 L324.50,234.22 L324.60,234.39 L324.70,234.55 L324.80,234.70 L324.90,234.85 L325.00,235.00" fill="none" stroke="#8a8a8a" stroke-width="1"/>
<path d="M63.90,149.20h2.20v2.20h-2.20zM64.60,150.06h2.20v2.20h-2.20zM65.30,150.01h2.20v2.20h-2.20zM66.00,149.87h2.20v2.20h-2.20zM66.70,150.72h2.20v2.20h-2.20zM67.40,150.51h2.20v2.20h-2.20zM68.10,151.81h2.20v2.20h-2.20zM68.80,153.23h2.20v2.20h-2.20zM69.50,151.46h2.20v2.20h-2.20zM70.20,151.39h2.20v2.20h-2.20zM70.90,152.54h2.20v2.20h-2.20zM71.60,152.44h2.20v2.20h-2.20zM72.30,152.20h2.20v2.20h-2.20zM73.00,151.16h2.20v2.20h-2.20zM73.70,152.02h2.20v2.20h-2.20zM74.40,152.66h2.20v2.20h-2.20zM75.10,150.51h2.20v2.20h-2.20zM75.80,151.25h2.20v2.20h-2.20zM76.50,149.65h2.20v2.20h-2.20zM77.20,150.05h2.20v2.20h-2.20zM77.90,149.14h2.20v2.20h-2.20zM78.60,150.29h2.20v2.20h-2.20zM79.30,148.72h2.20v2.20h-2.20zM80.00,149.70h2.20v2.20h-2.20zM80.70,149.05h2.20v2.20h-2.20zM81.40,148.21h2.20v2.20h-2.20zM82.10,145.39h2.20v2.20h-2.20zM82.80,146.84h2.20v2.20h-2.20zM83.50,146.84h2.20v2.20h-2.20zM84.20,146.64h2.20v2.20h-2.20zM84.90,144.81h2.20v2.20h-2.20zM85.60,145.73h2.20v2.20h-2.20zM86.30,145.12h2.20v2.20h-2.20zM87.00,145.22h2.20v2.20h-2.20zM87.70,147.06h2.20v2.20h-2.20zM88.40,145.34h2.20v2.20h-2.20zM89.10,146.48h2.20v2.20h-2.20zM89.80,147.86h2.20v2.20h-2.20zM90.50,146.83h2.20v2.20h-2.20zM91.20,147.60h2.20v2.20h-2.20zM91.90,148.07h2.20v2.20h-2.20zM92.60,148.24h2.20v2.20h-2.20zM93.30,147.16h2.20v2.20h-2.20zM94.00,148.68h2.20v2.20h-2.20zM94.70,150.19h2.20v2.20h-2.20zM95.40,147.55h2.20v2.20h-2.20zM96.10,150.26h2.20v2.20h-2.20zM96.80,149.83h2.20v2.20h-2.20zM97.50,149.38h2.20v2.20h-2.20zM98.20,152.29h2.20v2.20h-2.20zM98.90,151.26h2.20v2.20h-2.20zM99.60,149.47h2.20v2.20h-2.20zM100.30,150.90h2.20v2.20h-2.20zM101.00,151.48h2.20v2.20h-2.20zM101.70,150.68h2.20v2.20h-2.20zM102.40,151.44h2.20v2.20h-2.20zM103.10,150.53h2.20v2.20h-2.20zM103.80,151.06h2.20v2.20h-2.20zM104.50,151.60h2.20v2.20h-2.20zM105.20,149.16h2.20v2.20h-2.20zM105.90,149.58h2.20v2.20h-2.20zM106.60,148.38h2.20v2.20h-2.20zM107.30,148.41h2.20v2.20h-2.20zM108.00,146.51h2.20v2.20h-2.20zM108.70,146.45h2.20v2.20h-2.20zM109.40,146.09h2.20v2.20h-2.20zM110.10,146.34h2.20v2.20h-2.20zM110.80,145.58h2.20v2.20h-2.20zM111.50,141.95h2.20v2.20h-2.20zM112.20,141.24h2.20v2.20h-2.20zM112.90,141.42h2.20v2.20h-2.20zM113.85,137.67h1.70v1.70h-1.70zM114.55,137.71h1.70v1.70h-1.70zM115.25,136.45h1.70v1.70h-1.70zM115.95,136.00h1.70v1.70h-1.70zM116.65,133.30h1.70v1.70h-1.70zM117.35,129.42h1.70v1.70h-1.70zM118.05,126.78h1.70v1.70h-1.70zM118.75,124.49h1.70v1.70h-1.70zM119.45,122.79h1.70v1.70h-1.70zM120.15,117.03h1.70v1.70h-1.70zM120.85,114.11h1.70v1.70h-1.70zM121.55,112.60h1.70v1.70h-1.70zM122.25,109.56h1.70v1.70h-1.70zM122.95,105.29h1.70v1.70h-1.70zM123.65,102.01h1.70v1.70h-1.70zM124.35,101.27h1.70v1.70h-1.70zM124.80,99.34h2.20v2.20h-2.20zM125.50,100.58h2.20v2.20h-2.20zM126.45,101.23h1.70v1.70h-1.70zM127.15,102.45h1.70v1.70h-1.70zM127.85,105.70h1.70v1.70h-1.70zM128.55,109.21h1.70v1.70h-1.70zM129.25,114.43h1.70v1.70h-1.70zM129.95,117.04h1.70v1.70h-1.70zM130.65,121.76h1.70v1.70h-1.70zM131.35,123.94h1.70v1.70h-1.70zM132.05,129.05h1.70v1.70h-1.70zM132.75,129.94h1.70v1.70h-1.70zM133.45,132.25h1.70v1.70h-1.70zM134.15,136.78h1.70v1.70h-1.70zM134.85,139.10h1.70v1.70h-1.70zM135.55,142.94h1.70v1.70h-1.70zM136.25,147.53h1.70v1.70h-1.70zM136.95,146.80h1.70v1.70h-1.70zM137.65,149.22h1.70v1.70h-1.70zM138.35,152.28h1.70v1.70h-1.70zM139.05,154.46h1.70v1.70h-1.70zM139.50,154.64h2.20v2.20h-2.20zM140.20,155.49h2.20v2.20h-2.20zM140.90,157.11h2.20v2.20h-2.20zM141.60,157.50h2.20v2.20h-2.20zM142.30,156.44h2.20v2.20h-2.20zM143.00,157.83h2.20v2.20h-2.20zM143.70,158.34h2.20v2.20h-2.20zM144.40,157.59h2.20v2.20h-2.20zM145.10,159.19h2.20v2.20h-2.20zM145.80,158.31h2.20v2.20h-2.20zM146.50,160.33h2.20v2.20h-2.20zM147.20,159.69h2.20v2.20h-2.20zM147.90,159.71h2.20v2.20h-2.20zM148.60,159.16h2.20v2.20h-2.20zM149.30,159.81h2.20v2.20h-2.20zM150.00,158.15h2.20v2.20h-2.20zM150.70,159.26h2.20v2.20h-2.20zM151.40,161.03h2.20v2.20h-2.20zM152.10,158.85h2.20v2.20h-2.20zM152.80,162.16h2.20v2.20h-2.20zM153.50,159.94h2.20v2.20h-2.20zM154.20,162.85h2.20v2.20h-2.20zM154.90,161.70h2.20v2.20h-2.20zM155.60,164.00h2.20v2.20h-2.20zM156.30,164.08h2.20v2.20h-2.20zM157.00,162.91h2.20v2.20h-2.20zM157.70,166.05h2.20v2.20h-2.20zM158.40,166.58h2.20v2.20h-2.20zM159.10,165.39h2.20v2.20h-2.20zM159.80,165.47h2.20v2.20h-2.20zM160.50,165.84h2.20v2.20h-2.20zM161.20,165.25h2.20v2.20h-2.20zM161.90,167.51h2.20v2.20h-2.20zM162.60,166.01h2.20v2.20h-2.20zM163.30,166.60h2.20v2.20h-2.20zM164.00,165.90h2.20v2.20h-2.20zM164.70,165.94h2.20v2.20h-2.20zM165.40,164.82h2.20v2.20h-2.20zM166.10,166.84h2.20v2.20h-2.20zM166.80,165.16h2.20v2.20h-2.20zM167.50,166.14h2.20v2.20h-2.20zM168.20,165.07h2.20v2.20h-2.20zM168.90,164.26h2.20v2.20h-2.20zM169.60,164.51h2.20v2.20h-2.20zM170.30,164.11h2.20v2.20h-2.20zM171.00,164.44h2.20v2.20h-2.20zM171.70,163.75h2.20v2.20h-2.20zM172.40,163.47h2.20v2.20h-2.20zM173.10,161.99h2.20v2.20h-2.20zM173.80,162.15h2.20v2.20h-2.20zM174.50,164.20h2.20v2.20h-2.20zM175.20,161.47h2.20v2.20h-2.20zM175.90,160.72h2.20v2.20h-2.20zM176.60,161.80h2.20v2.20h-2.20zM177.30,162.60h2.20v2.20h-2.20zM178.00,159.51h2.20v2.20h-2.20zM178.70,160.55h2.20v2.20h-2.20zM179.40,159.91h2.20v2.20h-2.20zM180.10,158.53h2.20v2.20h-2.20zM180.80,160.74h2.20v2.20h-2.20zM181.50,159.62h2.20v2.20h-2.20zM182.20,159.23h2.20v2.20h-2.20zM182.90,157.79h2.20v2.20h-2.20zM183.60,158.25h2.20v2.20h-2.20zM184.30,156.42h2.20v2.20h-2.20zM185.00,155.87h2.20v2.20h-2.20zM185.70,153.73h2.20v2.20h-2.20zM186.65,152.45h1.70v1.70h-1.70zM187.35,153.39h1.70v1.70h-1.70zM188.05,149.64h1.70v1.70h-1.70zM188.75,148.21h1.70v1.70h-1.70zM189.45,145.47h1.70v1.70h-1.70zM190.15,142.53h1.70v1.70h-1.70zM190.85,139.68h1.70v1.70h-1.70zM191.55,137.66h1.70v1.70h-1.70zM192.25,133.07h1.70v1.70h-1.70zM192.95,129.30h1.70v1.70h-1.70zM193.65,125.13h1.70v1.70h-1.70zM194.35,121.71h1.70v1.70h-1.70zM195.05,117.29h1.70v1.70h-1.70zM195.75,114.08h1.70v1.70h-1.70zM196.45,110.70h1.70v1.70h-1.70zM197.15,107.77h1.70v1.70h-1.70zM197.85,108.27h1.70v1.70h-1.70zM198.55,106.69h1.70v1.70h-1.70zM199.20,103.98h1.80v1.80h-1.80zM228.60,47.41h1.80v1.80h-1.80zM229.30,44.72h1.80v1.80h-1.80zM230.00,38.07h1.80v1.80h-1.80zM230.70,35.22h1.80v1.80h-1.80zM231.40,32.17h1.80v1.80h-1.80zM231.90,31.88h2.20v2.20h-2.20zM232.80,34.26h1.80v1.80h-1.80zM233.50,36.37h1.80v1.80h-1.80zM234.20,38.88h1.80v1.80h-1.80zM234.90,41.04h1.80v1.80h-1.80zM235.60,44.28h1.80v1.80h-1.80zM236.30,45.76h1.80v1.80h-1.80zM237.00,47.08h1.80v1.80h-1.80zM237.70,51.97h1.80v1.80h-1.80zM238.40,56.65h1.80v1.80h-1.80zM239.10,66.32h1.80v1.80h-1.80zM239.80,79.72h1.80v1.80h-1.80zM240.50,90.52h1.80v1.80h-1.80zM241.20,100.59h1.80v1.80h-1.80zM241.90,111.14h1.80v1.80h-1.80zM242.60,122.59h1.80v1.80h-1.80zM243.30,140.89h1.80v1.80h-1.80zM244.00,155.80h1.80v1.80h-1.80zM244.70,162.35h1.80v1.80h-1.80zM245.40,170.26h1.80v1.80h-1.80zM246.10,178.91h1.80v1.80h-1.80zM246.80,187.20h1.80v1.80h-1.80zM247.50,192.10h1.80v1.80h-1.80zM248.20,195.75h1.80v1.80h-1.80zM248.90,198.09h1.80v1.80h-1.80zM249.10,199.85h1.80v1.80h-1.80zM249.60,201.31h1.80v1.80h-1.80zM250.10,203.84h1.80v1.80h-1.80zM250.60,204.64h1.80v1.80h-1.80zM251.10,206.76h1.80v1.80h-1.80zM251.60,208.38h1.80v1.80h-1.80zM252.10,209.28h1.80v1.80h-1.80zM252.60,211.77h1.80v1.80h-1.80zM252.95,212.59h2.10v2.10h-2.10zM253.45,212.70h2.10v2.10h-2.10zM253.95,213.98h2.10v2.10h-2.10zM254.45,214.56h2.10v2.10h-2.10zM254.95,214.03h2.10v2.10h-2.10zM255.45,215.78h2.10v2.10h-2.10zM255.95,216.19h2.10v2.10h-2.10zM256.45,216.71h2.10v2.10h-2.10zM256.95,216.63h2.10v2.10h-2.10zM257.45,217.26h2.10v2.10h-2.10zM257.95,217.56h2.10v2.10h-2.10zM258.45,218.35h2.10v2.10h-2.10zM258.95,218.22h2.10v2.10h-2.10zM259.45,218.28h2.10v2.10h-2.10zM259.95,219.07h2.10v2.10h-2.10zM260.45,218.41h2.10v2.10h-2.10zM260.95,218.63h2.10v2.10h-2.10zM261.45,218.21h2.10v2.10h-2.10zM261.95,219.71h2.10v2.10h-2.10zM262.45,219.61h2.10v2.10h-2.10zM262.95,219.73h2.10v2.10h-2.10zM263.45,219.79h2.10v2.10h-2.10zM263.95,219.72h2.10v2.10h-2.10zM264.45,219.92h2.10v2.10h-2.10zM264.95,219.89h2.10v2.10h-2.10zM265.45,220.06h2.10v2.10h-2.10zM265.95,220.31h2.10v2.10h-2.10zM266.45,221.03h2.10v2.10h-2.10zM266.95,220.77h2.10v2.10h-2.10zM267.45,220.64h2.10v2.10h-2.10zM267.95,220.53h2.10v2.10h-2.10zM268.45,220.58h2.10v2.10h-2.10zM268.95,221.54h2.10v2.10h-2.10zM269.45,221.14h2.10v2.10h-2.10zM269.95,220.98h2.10v2.10h-2.10zM270.45,220.74h2.10v2.10h-2.10zM270.95,220.24h2.10v2.10h-2.10zM271.45,220.40h2.10v2.10h-2.10zM271.95,220.51h2.10v2.10h-2.10zM272.45,219.77h2.10v2.10h-2.10zM272.95,219.69h2.10v2.10h-2.10zM273.45,219.66h2.10v2.10h-2.10zM273.95,219.80h2.10v2.10h-2.10zM274.45,219.14h2.10v2.10h-2.10zM274.95,219.70h2.10v2.10h-2.10zM275.45,219.48h2.10v2.10h-2.10zM275.95,220.21h2.10v2.10h-2.10zM276.45,219.57h2.10v2.10h-2.10zM276.95,220.14h2.10v2.10h-2.10zM277.45,220.54h2.10v2.10h-2.10zM277.95,219.82h2.10v2.10h-2.10zM278.45,219.71h2.10v2.10h-2.10zM278.95,220.03h2.10v2.10h-2.10zM279.45,219.95h2.10v2.10h-2.10zM279.95,219.54h2.10v2.10h-2.10zM280.45,220.12h2.10v2.10h-2.10zM280.95,220.72h2.10v2.10h-2.10zM281.45,219.80h2.10v2.10h-2.10zM281.95,219.80h2.10v2.10h-2.10zM282.45,219.44h2.10v2.10h-2.10zM282.95,219.96h2.10v2.10h-2.10zM283.45,219.30h2.10v2.10h-2.10zM283.95,219.32h2.10v2.10h-2.10zM284.45,220.23h2.10v2.10h-2.10zM284.95,219.31h2.10v2.10h-2.10zM285.45,220.05h2.10v2.10h-2.10zM285.95,220.16h2.10v2.10h-2.10zM286.45,219.59h2.10v2.10h-2.10zM286.95,219.64h2.10v2.10h-2.10zM287.45,220.12h2.10v2.10h-2.10zM287.95,219.17h2.10v2.10h-2.10zM288.45,218.64h2.10v2.10h-2.10zM289.10,217.62h1.80v1.80h-1.80zM289.60,216.93h1.80v1.80h-1.80zM290.10,215.99h1.80v1.80h-1.80zM290.60,213.06h1.80v1.80h-1.80zM291.10,208.48h1.80v1.80h-1.80zM291.60,204.98h1.80v1.80h-1.80zM292.10,201.58h1.80v1.80h-1.80zM292.60,198.22h1.80v1.80h-1.80zM293.10,194.43h1.80v1.80h-1.80zM293.60,190.85h1.80v1.80h-1.80zM294.10,186.22h1.80v1.80h-1.80zM294.60,178.69h1.80v1.80h-1.80zM295.10,170.68h1.80v1.80h-1.80zM295.60,163.14h1.80v1.80h-1.80zM296.10,156.30h1.80v1.80h-1.80zM296.60,153.50h1.80v1.80h-1.80zM297.10,152.26h1.80v1.80h-1.80zM297.60,150.31h1.80v1.80h-1.80zM297.95,148.87h2.10v2.10h-2.10zM298.45,147.51h2.10v2.10h-2.10zM298.95,148.11h2.10v2.10h-2.10zM299.45,147.41h2.10v2.10h-2.10zM299.95,148.19h2.10v2.10h-2.10zM300.45,149.76h2.10v2.10h-2.10zM300.95,150.23h2.10v2.10h-2.10zM301.45,150.31h2.10v2.10h-2.10zM301.95,150.11h2.10v2.10h-2.10zM302.45,150.97h2.10v2.10h-2.10zM302.95,150.98h2.10v2.10h-2.10zM303.45,151.36h2.10v2.10h-2.10zM303.95,151.60h2.10v2.10h-2.10zM304.45,150.20h2.10v2.10h-2.10zM304.95,149.10h2.10v2.10h-2.10zM305.45,148.20h2.10v2.10h-2.10zM305.95,147.93h2.10v2.10h-2.10zM306.60,147.16h1.80v1.80h-1.80zM307.10,145.63h1.80v1.80h-1.80zM307.60,144.93h1.80v1.80h-1.80zM307.95,143.19h2.10v2.10h-2.10zM308.45,143.30h2.10v2.10h-2.10zM308.95,142.98h2.10v2.10h-2.10zM309.45,143.25h2.10v2.10h-2.10zM309.95,143.36h2.10v2.10h-2.10zM310.60,144.99h1.80v1.80h-1.80zM311.10,146.05h1.80v1.80h-1.80zM311.60,148.33h1.80v1.80h-1.80zM312.10,152.27h1.80v1.80h-1.80zM312.60,156.64h1.80v1.80h-1.80zM313.10,161.52h1.80v1.80h-1.80zM313.60,167.51h1.80v1.80h-1.80zM314.10,172.80h1.80v1.80h-1.80zM314.60,179.26h1.80v1.80h-1.80zM315.10,186.50h1.80v1.80h-1.80zM315.60,194.31h1.80v1.80h-1.80zM316.10,204.30h1.80v1.80h-1.80zM316.60,211.46h1.80v1.80h-1.80zM317.10,216.31h1.80v1.80h-1.80zM317.60,220.12h1.80v1.80h-1.80zM318.10,225.31h1.80v1.80h-1.80zM318.60,229.65h1.80v1.80h-1.80zM319.10,231.55h1.80v1.80h-1.80zM319.65,231.60h1.70v1.70h-1.70zM320.15,231.72h1.70v1.70h-1.70zM320.65,231.54h1.70v1.70h-1.70zM321.15,231.11h1.70v1.70h-1.70zM321.65,231.34h1.70v1.70h-1.70zM322.15,231.08h1.70v1.70h-1.70zM322.65,230.93h1.70v1.70h-1.70zM323.15,230.45h1.70v1.70h-1.70zM323.65,230.18h1.70v1.70h-1.70zM324.15,229.85h1.70v1.70h-1.70zM324.65,230.12h1.70v1.70h-1.70zM325.15,229.73h1.70v1.70h-1.70zM325.65,230.09h1.70v1.70h-1.70zM326.15,230.22h1.70v1.70h-1.70zM326.65,230.88h1.70v1.70h-1.70zM327.15,231.33h1.70v1.70h-1.70zM327.65,232.19h1.70v1.70h-1.70zM328.15,233.00h1.70v1.70h-1.70zM328.65,233.26h1.70v1.70h-1.70zM329.15,233.88h1.70v1.70h-1.70zM329.65,234.00h1.70v1.70h-1.70zM330.15,234.04h1.70v1.70h-1.70zM330.65,234.29h1.70v1.70h-1.70zM331.15,234.46h1.70v1.70h-1.70zM331.65,234.65h1.70v1.70h-1.70zM332.15,234.69h1.70v1.70h-1.70zM332.65,234.73h1.70v1.70h-1.70zM333.15,234.81h1.70v1.70h-1.70zM333.65,234.73h1.70v1.70h-1.70zM334.15,234.70h1.70v1.70h-1.70zM334.65,234.84h1.70v1.70h-1.70zM335.15,234.96h1.70v1.70h-1.70zM335.65,234.67h1.70v1.70h-1.70zM336.15,234.85h1.70v1.70h-1.70zM336.65,234.77h1.70v1.70h-1.70zM337.15,234.73h1.70v1.70h-1.70zM337.65,234.95h1.70v1.70h-1.70zM338.15,234.79h1.70v1.70h-1.70zM338.65,235.03h1.70v1.70h-1.70zM339.15,234.76h1.70v1.70h-1.70zM339.65,234.90h1.70v1.70h-1.70zM340.15,234.82h1.70v1.70h-1.70zM340.65,234.76h1.70v1.70h-1.70zM341.15,234.92h1.70v1.70h-1.70zM341.65,234.83h1.70v1.70h-1.70zM342.15,234.92h1.70v1.70h-1.70zM342.65,234.84h1.70v1.70h-1.70zM343.15,234.72h1.70v1.70h-1.70zM343.65,234.84h1.70v1.70h-1.70zM344.15,234.86h1.70v1.70h-1.70zM344.65,234.97h1.70v1.70h-1.70zM345.15,234.74h1.70v1.70h-1.70zM345.65,234.85h1.70v1.70h-1.70zM346.15,234.64h1.70v1.70h-1.70zM346.65,234.93h1.70v1.70h-1.70zM347.15,234.72h1.70v1.70h-1.70zM347.65,234.63h1.70v1.70h-1.70zM214.05,76.45h1.7v1.7h-1.7zM214.55,74.35h1.7v1.7h-1.7zM214.95,72.15h1.7v1.7h-1.7zM215.75,69.15h1.7v1.7h-1.7zM216.65,66.15h1.7v1.7h-1.7zM217.15,64.35h1.7v1.7h-1.7zM217.55,62.65h1.7v1.7h-1.7zM218.35,61.15h1.7v1.7h-1.7zM218.85,60.45h1.7v1.7h-1.7zM219.65,59.15h1.7v1.7h-1.7zM220.55,63.55h1.7v1.7h-1.7zM221.35,64.35h1.7v1.7h-1.7zM222.25,66.15h1.7v1.7h-1.7zM221.85,68.25h1.7v1.7h-1.7zM223.55,66.55h1.7v1.7h-1.7zM224.85,66.95h1.7v1.7h-1.7zM224.45,71.75h1.7v1.7h-1.7zM224.85,73.05h1.7v1.7h-1.7zM225.75,64.35h1.7v1.7h-1.7zM226.55,60.95h1.7v1.7h-1.7zM227.05,57.85h1.7v1.7h-1.7zM227.85,55.75h1.7v1.7h-1.7zM228.35,53.15h1.7v1.7h-1.7zM200.45,97.85h1.7v1.7h-1.7zM201.85,97.15h1.7v1.7h-1.7zM202.35,95.75h1.7v1.7h-1.7zM203.15,93.85h1.7v1.7h-1.7zM203.45,96.35h1.7v1.7h-1.7zM204.35,95.15h1.7v1.7h-1.7zM205.15,94.05h1.7v1.7h-1.7zM205.85,96.15h1.7v1.7h-1.7zM206.55,94.45h1.7v1.7h-1.7zM207.15,92.45h1.7v1.7h-1.7zM208.15,93.35h1.7v1.7h-1.7zM208.75,91.75h1.7v1.7h-1.7zM209.35,92.05h1.7v1.7h-1.7zM210.45,90.45h1.7v1.7h-1.7zM211.85,85.35h1.7v1.7h-1.7zM212.55,83.75h1.7v1.7h-1.7zM213.25,82.35h1.7v1.7h-1.7z" fill="#000"/>
<text transform="translate(115,37.8) scale(1.0,1.12)" font-size="12">Ce 5s</text>
<text transform="translate(166.6,17) scale(1.0,1.12)" font-size="12">IVMO</text>
<text transform="translate(200,31) scale(1.0,1.12)" font-size="12">O 2s</text>
<text transform="translate(223.6,11) scale(1.0,1.12)" font-size="12">Ce 5p</text>
<text transform="translate(274.6,15.4) scale(1.0,1.12)" font-size="12">OVMO</text>
<text transform="translate(230,27) scale(1,1.1)" font-size="10" letter-spacing="0.55">17.3</text>
<text transform="translate(207.4,55.6) scale(1,1.1)" font-size="10" letter-spacing="0.3">20.1</text>
<text transform="translate(192,88) scale(1,1.1)" font-size="10" letter-spacing="0.55">23.0</text>
<text transform="translate(121.4,94) scale(1,1.1)" font-size="10" letter-spacing="0.05">36.7</text>
<text transform="translate(248.8,128.6) scale(1,1.1)" font-size="10" letter-spacing="0.55">9.0</text>
<text transform="translate(287,131.6) scale(1,1.1)" font-size="10" letter-spacing="0.55">5.8</text>
<text transform="translate(308,131.6) scale(1,1.1)" font-size="10" letter-spacing="0.55">3.9</text>
<text transform="translate(322.2,185.2) scale(1,1.1)" font-size="9.4" letter-spacing="0.0">3.4</text>
<text transform="translate(98,140) scale(1,1.1)" font-size="10" letter-spacing="0.55">6.9</text>
<text transform="translate(140,126) scale(1,1.1)" font-size="10" letter-spacing="0.55">2.3</text>
<text transform="translate(80,127) scale(1,1.05)" font-size="10.8">sat<tspan dx="0.6" dy="2.4" font-size="7.4">1</tspan></text>
<text transform="translate(153,44.6) scale(1.0,1.1)" font-size="9.0"><tspan>12</tspan><tspan dy="0.30" font-size="7.65">γ</tspan><tspan dy="3.10" font-size="6.12">6</tspan><tspan dy="-7.80" font-size="6.12">+</tspan><tspan dy="4.40">...7</tspan><tspan dy="0.30" font-size="7.65">γ</tspan><tspan dy="3.10" font-size="6.12">7</tspan><tspan dy="-7.80" font-size="6.12">-</tspan><tspan dy="4.40"> (</tspan><tspan font-weight="bold" font-size="10.08">5</tspan><tspan>)</tspan></text>
<text transform="translate(82,78) scale(1.0,1.1)" font-size="9.0"><tspan>11</tspan><tspan dy="0.30" font-size="7.65">γ</tspan><tspan dy="3.10" font-size="6.12">6</tspan><tspan dy="-7.80" font-size="6.12">+</tspan><tspan dy="4.40">(</tspan><tspan font-weight="bold" font-size="10.08">8</tspan><tspan>)</tspan></text>
<text transform="translate(120,76) scale(1.0,1.1)" font-size="9.0"><tspan>9</tspan><tspan dy="0.30" font-size="7.65">γ</tspan><tspan dy="3.10" font-size="6.12">6</tspan><tspan dy="-7.80" font-size="6.12">+</tspan><tspan dy="4.40">(</tspan><tspan font-weight="bold" font-size="10.08">7</tspan><tspan>); 10</tspan><tspan dy="0.30" font-size="7.65">γ</tspan><tspan dy="3.10" font-size="6.12">6</tspan><tspan dy="-7.80" font-size="6.12">-</tspan><tspan dy="4.40">...6</tspan><tspan dy="0.30" font-size="7.65">γ</tspan><tspan dy="3.10" font-size="6.12">7</tspan><tspan dy="-7.80" font-size="6.12">-</tspan><tspan dy="4.40">(</tspan><tspan font-weight="bold" font-size="10.08">6</tspan><tspan>)</tspan></text>
<text transform="translate(248.4,38.8) scale(1.0,1.1)" font-size="9.0"><tspan>11</tspan><tspan dy="0.30" font-size="7.65">γ</tspan><tspan dy="3.10" font-size="6.12">6</tspan><tspan dy="-7.80" font-size="6.12">-</tspan><tspan dy="4.40"> (</tspan><tspan font-weight="bold" font-size="10.08">4</tspan><tspan>); 8</tspan><tspan dy="0.30" font-size="7.65">γ</tspan><tspan dy="3.10" font-size="6.12">7</tspan><tspan dy="-7.80" font-size="6.12">-</tspan><tspan dy="4.40">,12</tspan><tspan dy="0.30" font-size="7.65">γ</tspan><tspan dy="3.10" font-size="6.12">6</tspan><tspan dy="-7.80" font-size="6.12">-</tspan><tspan dy="4.40">(</tspan><tspan font-weight="bold" font-size="10.08">3</tspan><tspan>)</tspan></text>
<text transform="translate(250,111.8) scale(1.0,1.1)" font-size="9.0"><tspan>14</tspan><tspan dy="0.30" font-size="7.65">γ</tspan><tspan dy="3.10" font-size="6.12">6</tspan><tspan dy="-7.80" font-size="6.12">+</tspan><tspan dy="4.40">...11</tspan><tspan dy="0.30" font-size="7.65">γ</tspan><tspan dy="3.10" font-size="6.12">7</tspan><tspan dy="-7.80" font-size="6.12">-</tspan><tspan dy="4.40">(</tspan><tspan font-weight="bold" font-size="10.08">2</tspan><tspan>)</tspan></text>
<text transform="translate(314.5,111.8) scale(1.0,1.1)" font-size="9.0"><tspan>12</tspan><tspan dy="0.30" font-size="7.65">γ</tspan><tspan dy="2.70" font-size="8.55">7</tspan><tspan dy="-7.60" font-size="9.00">-</tspan><tspan dy="4.60">...18</tspan><tspan dy="0.30" font-size="7.65">γ</tspan><tspan dy="2.70" font-size="8.55">6</tspan><tspan dy="-7.60" font-size="9.00">-</tspan><tspan dy="4.60">(</tspan><tspan>1</tspan><tspan>)</tspan></text>
<polyline points="165.5,50.5 203.8,50.5 218.6,87.6" fill="none" stroke="#333" stroke-width="1.0"/>
<polyline points="99.5,82.5 112.5,82.5 125,101.8" fill="none" stroke="#333" stroke-width="1.0"/>
<polyline points="130.6,81.5 190,81.5 202,100" fill="none" stroke="#333" stroke-width="1.0"/>
<polyline points="308,44.5 248,44.5 235,55" fill="none" stroke="#333" stroke-width="1.0"/>
<polyline points="262,116.5 292,116.5 300,149" fill="none" stroke="#333" stroke-width="1.0"/>
<polyline points="346,116.5 317,116.5 310,142" fill="none" stroke="#333" stroke-width="1.0"/>
<line x1="103.3" y1="129.5" x2="116.6" y2="129.5" stroke="#555" stroke-width="1"/>
<path d="M116.6,129.5 L111.39999999999999,128.2 L111.39999999999999,130.8 z" fill="#000"/>
<line x1="149" y1="129.5" x2="134" y2="129.5" stroke="#555" stroke-width="1"/>
<path d="M134,129.5 L139.2,128.2 L139.2,130.8 z" fill="#000"/>
<line x1="186" y1="98.5" x2="201" y2="98.5" stroke="#555" stroke-width="1"/>
<path d="M201,98.5 L195.8,97.2 L195.8,99.8 z" fill="#000"/>
<line x1="180" y1="130.5" x2="193.5" y2="130.5" stroke="#555" stroke-width="1"/>
<path d="M193.5,130.5 L188.3,129.2 L188.3,131.8 z" fill="#000"/>
<line x1="258" y1="130.5" x2="243.3" y2="130.5" stroke="#555" stroke-width="1"/>
<path d="M243.3,130.5 L248.5,129.2 L248.5,131.8 z" fill="#000"/>
<line x1="281" y1="187.5" x2="295" y2="187.5" stroke="#555" stroke-width="1"/>
<path d="M295,187.5 L289.8,186.2 L289.8,188.8 z" fill="#000"/>
<line x1="330" y1="187.5" x2="316" y2="187.5" stroke="#555" stroke-width="1"/>
<path d="M316,187.5 L321.2,186.2 L321.2,188.8 z" fill="#000"/>
<line x1="86.3" y1="135" x2="86.3" y2="155.6" stroke="#333" stroke-width="1"/>
<line x1="125" y1="135" x2="125" y2="155" stroke="#666" stroke-width="1"/>
<line x1="86.3" y1="141.5" x2="125" y2="141.5" stroke="#666" stroke-width="1"/>
<path d="M86.8,141.5 L92.0,140.2 L92.0,142.8 z" fill="#000"/>
<path d="M124.5,141.5 L119.3,140.2 L119.3,142.8 z" fill="#000"/>
</svg></body></html>
